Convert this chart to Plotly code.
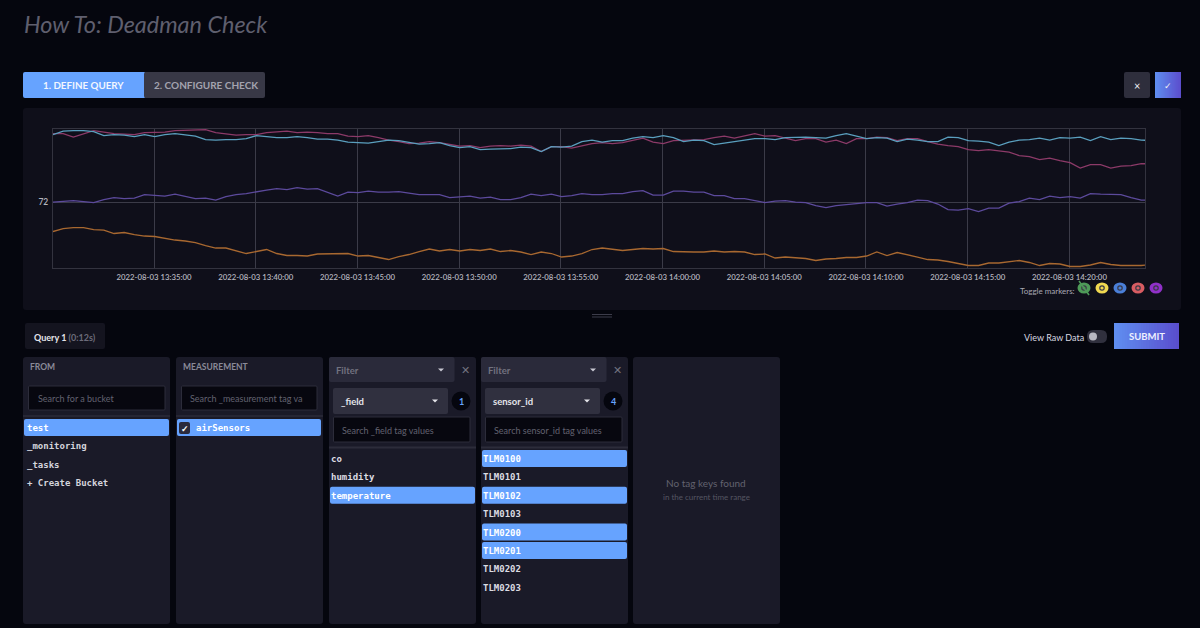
import pandas as pd
import plotly.graph_objects as go

W, H = 1200, 628
UI_FONT = "Lato"
MONO_FONT = "DejaVu Sans Mono"

times = pd.date_range("2022-08-03 13:30:02", periods=109, freq="30s")

sensor_cyan = [
    73.35, 73.42, 73.43, 73.43, 73.41, 73.33, 73.35, 73.34, 73.31, 73.35, 73.31, 73.35, 73.37, 73.35, 73.32, 73.25,
    73.24, 73.25, 73.25, 73.27, 73.33, 73.31, 73.29, 73.29, 73.31, 73.29, 73.26,
    73.26, 73.24, 73.20, 73.19, 73.18, 73.21, 73.24, 73.23, 73.20, 73.16, 73.17, 73.19, 73.13, 73.09, 73.11, 73.05,
    73.06, 73.07, 73.07, 73.10, 73.09, 73.01, 73.11, 73.10, 73.12, 73.21, 73.24,
    73.20, 73.23, 73.23, 73.28, 73.31, 73.29, 73.33, 73.29, 73.21, 73.24, 73.23, 73.15, 73.18, 73.21, 73.24, 73.27,
    73.27, 73.25, 73.29, 73.30, 73.30, 73.29, 73.28, 73.33, 73.37, 73.32, 73.27,
    73.29, 73.28, 73.21, 73.26, 73.24, 73.21, 73.21, 73.30, 73.29, 73.23, 73.22, 73.20, 73.13, 73.20, 73.24, 73.25,
    73.28, 73.24, 73.29, 73.28, 73.30, 73.23, 73.31, 73.25, 73.28, 73.27, 73.24, 73.23,
]
sensor_magenta = [
    73.37, 73.37, 73.30, 73.36, 73.43, 73.40, 73.37, 73.36, 73.35, 73.39, 73.40, 73.40, 73.43, 73.44, 73.45, 73.45,
    73.39, 73.37, 73.34, 73.35, 73.35, 73.39, 73.40, 73.42, 73.39, 73.40, 73.39,
    73.37, 73.37, 73.32, 73.31, 73.33, 73.29, 73.24, 73.21, 73.17, 73.18, 73.21, 73.19, 73.15, 73.12, 73.13, 73.09,
    73.12, 73.13, 73.12, 73.14, 73.12, 73.01, 73.11, 73.11, 73.08, 73.13, 73.17,
    73.19, 73.17, 73.19, 73.23, 73.28, 73.20, 73.17, 73.23, 73.24, 73.25, 73.25, 73.29, 73.32, 73.28, 73.33, 73.37,
    73.32, 73.33, 73.28, 73.23, 73.27, 73.27, 73.20, 73.24, 73.17, 73.27, 73.27,
    73.30, 73.29, 73.23, 73.27, 73.27, 73.21, 73.16, 73.13, 73.11, 73.05, 73.03, 73.05, 73.03, 73.00, 72.93, 72.91,
    72.85, 72.88, 72.83, 72.79, 72.68, 72.75, 72.75, 72.68, 72.72, 72.73, 72.77, 72.76,
]
sensor_purple = [
    72.00, 72.01, 72.03, 72.01, 71.99, 72.05, 72.09, 72.07, 72.08, 72.15, 72.13, 72.12, 72.16, 72.11, 72.07, 72.08,
    72.04, 72.11, 72.15, 72.17, 72.21, 72.24, 72.27, 72.25, 72.29, 72.26, 72.27,
    72.19, 72.12, 72.20, 72.19, 72.22, 72.20, 72.20, 72.21, 72.18, 72.15, 72.15, 72.15, 72.09, 72.11, 72.12, 72.08,
    72.10, 72.05, 72.05, 72.09, 72.16, 72.13, 72.16, 72.11, 72.13, 72.17, 72.15,
    72.15, 72.17, 72.17, 72.21, 72.23, 72.14, 72.14, 72.22, 72.22, 72.20, 72.20, 72.13, 72.13, 72.07, 72.07, 72.03,
    71.99, 72.02, 72.03, 72.00, 71.99, 71.93, 71.89, 71.93, 71.95, 71.96, 71.99,
    71.99, 71.92, 71.96, 71.99, 72.04, 72.03, 71.96, 71.85, 71.84, 71.87, 71.81, 71.88, 71.88, 71.98, 72.01, 72.08,
    72.05, 72.12, 72.09, 72.11, 72.08, 72.17, 72.16, 72.15, 72.15, 72.09, 72.04, 72.04,
]
sensor_orange = [
    71.41, 71.47, 71.49, 71.49, 71.45, 71.44, 71.37, 71.39, 71.35, 71.32, 71.31, 71.27, 71.24, 71.22, 71.19, 71.13,
    71.08, 71.08, 71.03, 70.97, 71.01, 71.05, 70.97, 70.93, 70.93, 70.92, 70.96,
    70.96, 70.96, 70.97, 70.92, 70.93, 70.89, 70.85, 70.91, 70.95, 71.01, 71.06, 71.02, 71.05, 71.02, 71.05, 71.03,
    71.06, 71.01, 71.03, 71.00, 70.95, 71.00, 70.97, 70.90, 70.92, 70.97, 71.05,
    71.08, 71.05, 71.03, 71.05, 71.07, 71.06, 71.07, 71.01, 71.00, 71.00, 71.00, 71.02, 71.00, 71.01, 71.00, 70.95,
    70.96, 70.88, 70.90, 70.89, 70.87, 70.83, 70.86, 70.87, 70.89, 70.89, 70.92,
    71.00, 70.93, 70.99, 70.95, 70.90, 70.85, 70.84, 70.81, 70.77, 70.73, 70.73, 70.78, 70.78, 70.81, 70.83, 70.79,
    70.73, 70.77, 70.76, 70.71, 70.71, 70.74, 70.79, 70.75, 70.73, 70.73, 70.73, 70.75,
]

bucket_items = ["test", "_monitoring", "_tasks", "+ Create Bucket"]
field_items = ["co", "humidity", "temperature"]
sensor_items = ["TLM0100", "TLM0101", "TLM0102", "TLM0103", "TLM0200", "TLM0201", "TLM0202", "TLM0203"]
selected_sensors = ["TLM0100", "TLM0102", "TLM0200", "TLM0201"]

BG = "#05060e"
PANEL = "#1a1a28"
BLUE = "#66a3ff"
shapes = []
notes = []


def px(x):
    return x / W


def py(y):
    return 1 - y / H


def box(x0, y0, x1, y1, fill, r=2, line=None):
    # rounded rect, given in screen pixels
    p = (f"M {px(x0 + r)} {py(y0)} L {px(x1 - r)} {py(y0)} Q {px(x1)} {py(y0)} {px(x1)} {py(y0 + r)} "
         f"L {px(x1)} {py(y1 - r)} Q {px(x1)} {py(y1)} {px(x1 - r)} {py(y1)} "
         f"L {px(x0 + r)} {py(y1)} Q {px(x0)} {py(y1)} {px(x0)} {py(y1 - r)} "
         f"L {px(x0)} {py(y0 + r)} Q {px(x0)} {py(y0)} {px(x0 + r)} {py(y0)} Z")
    shapes.append(dict(type="path", path=p, xref="paper", yref="paper", fillcolor=fill, layer="below",
                       line=dict(width=1 if line else 0, color=line or fill)))


def gradient(x0, y0, x1, y1, left, right, steps=24):
    # each strip runs to the right edge so no seams show between them
    for i in range(steps):
        t = i / (steps - 1)
        c = [round(a + (b - a) * t) for a, b in zip(left, right)]
        shapes.append(dict(type="rect", xref="paper", yref="paper", layer="below",
                           x0=px(x0 + (x1 - x0) * i / steps), x1=px(x1),
                           y0=py(y0), y1=py(y1), fillcolor=f"rgb({c[0]},{c[1]},{c[2]})", line=dict(width=0)))


def circle(cx, cy, rx, ry, fill):
    shapes.append(dict(type="circle", xref="paper", yref="paper", layer="below",
                       x0=px(cx - rx), x1=px(cx + rx), y0=py(cy - ry), y1=py(cy + ry),
                       fillcolor=fill, line=dict(width=0)))


def seg(x0, y0, x1, y1, color, width=1):
    shapes.append(dict(type="line", xref="paper", yref="paper", layer="below",
                       x0=px(x0), x1=px(x1), y0=py(y0), y1=py(y1), line=dict(color=color, width=width)))


def label(x, y, text, size=9, color="#e4e4ea", anchor="left", font=UI_FONT, weight=400, style="normal"):
    # annotations sit about 1px inside their anchor
    nudge = {"left": -1, "right": 1, "center": 0}[anchor]
    notes.append(dict(x=px(x + nudge), y=py(y), xref="paper", yref="paper", text=text, showarrow=False,
                      xanchor=anchor, yanchor="middle", borderpad=0,
                      font=dict(size=size, color=color, family=font, weight=weight, style=style)))


def caret(x, y, color="#c8c8d2"):
    shapes.append(dict(type="path", xref="paper", yref="paper", layer="below", fillcolor=color, line=dict(width=0),
                       path=f"M {px(x - 3)} {py(y - 1.5)} L {px(x + 3)} {py(y - 1.5)} L {px(x)} {py(y + 1.5)} Z"))


# header
label(24, 24, "How To: Deadman Check", size=23.4, color="#5f5f6e", style="italic")
box(23, 72, 146, 98, BLUE)
box(144, 72, 265, 98, "#383846")
label(83.5, 85, "1. DEFINE QUERY", size=9.8, color="#f2f6ff", anchor="center", weight=700)
label(205.5, 85, "2. CONFIGURE CHECK", size=10, color="#a3a3af", anchor="center", weight=700)
box(1124, 72, 1150, 98, "#2e2e3c")
label(1137, 85, "×", size=11, anchor="center", color="#f0f0f4")
gradient(1155, 72, 1181, 98, (95, 142, 240), (92, 78, 205))
label(1168, 85, "✓", size=9, anchor="center", color="#f0f0f4")

# graph card
box(23, 108, 1181, 310, "#0f0f1a", r=3)
label(1075, 291, "Toggle markers:", size=8, color="#a8a8b3", anchor="right")
marker_cols = ["#4e9a58", "#f0d850", "#4a7fd8", "#d85c62", "#9030c8"]
for cx, col in zip([1084, 1102, 1120, 1138, 1156], marker_cols):
    circle(cx, 288, 6.5, 5.5, col)
    circle(cx, 288, 2.8, 2.8, "#3a3a46")
    circle(cx, 288, 1.6, 1.6, col)
seg(1079, 281, 1089, 295, "#4e9a58", 1.5)

# resize handle
seg(592, 314.5, 612, 314.5, "#3c3c4a")
seg(592, 317, 612, 317, "#3c3c4a")

# query row
box(25, 323, 105, 349, "#14141f")
label(34, 337, "Query 1 <span style='color:#6c6c7a'>(0:12s)</span>", size=9, weight=700)
label(1084, 337, "View Raw Data", size=9, color="#d8d8e0", anchor="right")
box(1087, 330, 1107, 343, "#30303e", r=6)
circle(1093, 336.5, 4, 4, "#b8b8c2")
gradient(1114, 323, 1179, 349, (95, 142, 240), (90, 78, 205))
label(1146.5, 336, "SUBMIT", size=9.5, color="#eef0ff", anchor="center", weight=700)

# builder columns
for x0, x1 in [(23, 170), (176, 323), (329, 476), (481, 628), (633, 780)]:
    box(x0, 357, x1, 624, PANEL, r=3)

SEARCH_FILL = "#07070f"
SEARCH_LINE = "#2c2c3a"

label(30, 367, "FROM", size=8.5, color="#8a8a98", weight=700)
box(28.5, 386, 165, 410, SEARCH_FILL, r=1, line=SEARCH_LINE)
label(38, 398, "Search for a bucket", size=9, color="#62626f")
seg(23, 416, 170, 416, "#262634", 2)
box(24, 419, 169, 436, BLUE)
for name, y in zip(bucket_items, [428, 446, 465, 483]):
    label(27, y, name, font=MONO_FONT, weight=700, color="#ffffff" if name == "test" else "#d4d4dc")

label(183, 367, "MEASUREMENT", size=8.5, color="#8a8a98", weight=700)
box(181.5, 386, 317, 410, SEARCH_FILL, r=1, line=SEARCH_LINE)
label(190, 398, "Search _measurement tag va", size=9, color="#62626f")
seg(176, 416, 323, 416, "#262634", 2)
box(177, 419, 321, 436, BLUE)
box(179, 422, 190, 434, "#2a2a3c")
label(184.5, 428, "✓", size=9, anchor="center", color="#ffffff", weight=700)
label(196, 428, "airSensors", font=MONO_FONT, weight=700, color="#ffffff")


def filter_column(x0, key, count, search, items, selected):
    box(x0, 357, x0 + 125.5, 382, "#2a2a3a", r=2)
    label(x0 + 7, 370, "Filter", size=9.5, color="#72727f", weight=700)
    caret(x0 + 112, 370)
    label(x0 + 136, 369.5, "✕", size=11, color="#72727f", anchor="center")
    box(x0 + 4, 388, x0 + 119, 414, "#30303f", r=2)
    label(x0 + 12, 401, key, size=9.5, weight=700)
    caret(x0 + 106, 401, "#e4e4ea")
    circle(x0 + 132, 401, 9.5, 9.5, "#05060e")
    label(x0 + 132, 401, count, size=9, color=BLUE, anchor="center", weight=700)
    box(x0 + 4.5, 417, x0 + 141, 442, SEARCH_FILL, r=1, line=SEARCH_LINE)
    label(x0 + 13, 430, search, size=9, color="#62626f")
    seg(x0, 447.5, x0 + 147, 447.5, "#2c2c3a", 2)
    y = 459
    for name in items:
        on = name in selected
        if on:
            box(x0 + 1, y - 9, x0 + 146, y + 8, BLUE)
        label(x0 + 1.5, y, name, font=MONO_FONT, weight=700, color="#ffffff" if on else "#dcdce2")
        y += 18.4


filter_column(329, "_field", "1", "Search _field tag values", field_items, ["temperature"])
filter_column(481, "sensor_id", "4", "Search sensor_id tag values", sensor_items, selected_sensors)

label(706, 483, "No tag keys found", size=10, color="#62626f", anchor="center")
label(706, 497, "in the current time range", size=8, color="#555562", anchor="center")

fig = go.Figure()
series = [
    (sensor_magenta, "#8c3a68"),
    (sensor_cyan, "#5a9fbe"),
    (sensor_purple, "#5c4a9c"),
    (sensor_orange, "#a86830"),
]
for values, color in series:
    fig.add_trace(go.Scatter(x=times, y=values, mode="lines", line=dict(color=color, width=1.3), hoverinfo="skip"))

fig.update_layout(
    width=W, height=H, margin=dict(l=0, r=0, t=0, b=0, pad=0), showlegend=False,
    paper_bgcolor=BG, plot_bgcolor="rgba(0,0,0,0)", shapes=shapes, annotations=notes,
    font=dict(family=UI_FONT, size=9, color="#b4b4be"),
)
fig.update_xaxes(
    domain=[53 / W, 1145 / W], range=["2022-08-03 13:30:02", "2022-08-03 14:23:43"],
    tick0="2022-08-03 13:35:00", dtick=300000, tickformat="%Y-%m-%d %H:%M:%S", ticks="",
    showgrid=True, gridcolor="#3b3b48", gridwidth=1, showline=True, linecolor="#33333f", linewidth=1, mirror=True,
    zeroline=False, tickfont=dict(size=7.8, color="#b4b4be", weight=600), automargin=False, ticklabelstandoff=2,
)
fig.update_yaxes(
    domain=[1 - 268 / H, 1 - 128.6 / H], range=[70.68, 73.47], tickvals=[72], ticktext=["72"], ticks="",
    showgrid=True, gridcolor="#3b3b48", gridwidth=1, showline=True, linecolor="#33333f", linewidth=1, mirror=True,
    zeroline=False, tickfont=dict(size=8.5, color="#b4b4be", weight=600), automargin=False, ticklabelstandoff=2,
)

fig.write_html("out.html", config=dict(displayModeBar=False),
               post_script="document.body.style.margin='0';document.body.style.overflow='hidden';")
